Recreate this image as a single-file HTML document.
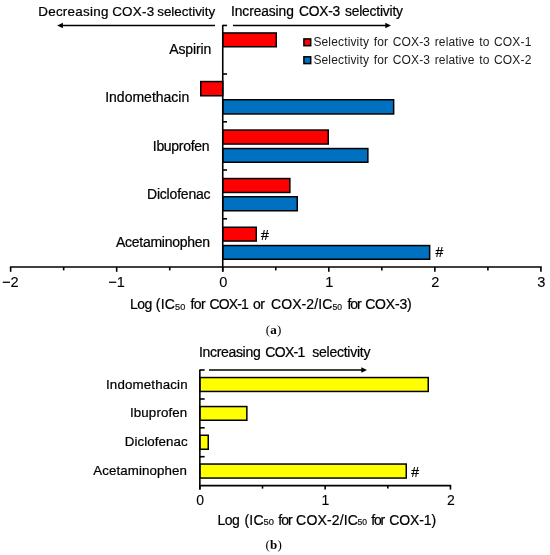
<!DOCTYPE html>
<html><head><meta charset="utf-8"><title>COX selectivity</title>
<style>
html,body{margin:0;padding:0;background:#fff;}
svg{display:block;}
text{font-family:"Liberation Sans",Arial,sans-serif;fill:#000;stroke:#000;stroke-width:0.22px;}
.tk{stroke-width:0.1px;}
.s{font-family:"Liberation Serif","Times New Roman",serif;stroke:none;letter-spacing:0.15px;}
</style></head><body>
<svg width="550" height="555" viewBox="0 0 550 555">
<rect width="550" height="555" fill="#fff"/>

<rect x="222.80" y="32.95" width="53.45" height="13.80" fill="#FF0000" stroke="#000" stroke-width="1.5"/>
<text id="aAsp" x="169.20" y="53.5" font-size="14" textLength="42.20" lengthAdjust="spacing">Aspirin</text>
<rect x="200.75" y="81.55" width="22.05" height="14.20" fill="#FF0000" stroke="#000" stroke-width="1.5"/>
<rect x="222.80" y="99.75" width="170.85" height="14.20" fill="#0070C0" stroke="#000" stroke-width="1.5"/>
<text id="aInd" x="105.20" y="101.6" font-size="14" textLength="84.06" lengthAdjust="spacing">Indomethacin</text>
<rect x="222.80" y="130.05" width="105.45" height="14.00" fill="#FF0000" stroke="#000" stroke-width="1.5"/>
<rect x="222.80" y="148.55" width="145.05" height="13.70" fill="#0070C0" stroke="#000" stroke-width="1.5"/>
<text id="aIbu" x="152.80" y="151.0" font-size="14" textLength="56.77" lengthAdjust="spacing">Ibuprofen</text>
<rect x="222.80" y="178.55" width="67.05" height="13.90" fill="#FF0000" stroke="#000" stroke-width="1.5"/>
<rect x="222.80" y="196.75" width="74.45" height="14.00" fill="#0070C0" stroke="#000" stroke-width="1.5"/>
<text id="aDic" x="147.00" y="199.0" font-size="14" textLength="63.57" lengthAdjust="spacing">Diclofenac</text>
<rect x="222.80" y="227.25" width="33.45" height="13.80" fill="#FF0000" stroke="#000" stroke-width="1.5"/>
<rect x="222.80" y="245.55" width="206.85" height="13.70" fill="#0070C0" stroke="#000" stroke-width="1.5"/>
<text id="aAce" x="116.00" y="247.3" font-size="14" textLength="94.10" lengthAdjust="spacing">Acetaminophen</text>
<path d="M222.75 24.900000000000002V271.5" stroke="#000" stroke-width="1.6" fill="none"/>
<path d="M9.88 267.00H541.68" stroke="#000" stroke-width="1.6" fill="none"/>
<path d="M222.75 25.45h4.3" stroke="#000" stroke-width="1.6"/>
<path d="M222.75 74.00h4.3" stroke="#000" stroke-width="1.6"/>
<path d="M222.75 121.80h4.3" stroke="#000" stroke-width="1.6"/>
<path d="M222.75 170.00h4.3" stroke="#000" stroke-width="1.6"/>
<path d="M222.75 218.80h4.3" stroke="#000" stroke-width="1.6"/>
<path d="M10.63 267.00v4.8" stroke="#000" stroke-width="1.6"/>
<path d="M63.66 267.00v3.4" stroke="#000" stroke-width="1.6"/>
<path d="M116.69 267.00v4.8" stroke="#000" stroke-width="1.6"/>
<path d="M169.72 267.00v3.4" stroke="#000" stroke-width="1.6"/>
<path d="M222.75 267.00v4.8" stroke="#000" stroke-width="1.6"/>
<path d="M275.78 267.00v3.4" stroke="#000" stroke-width="1.6"/>
<path d="M328.81 267.00v4.8" stroke="#000" stroke-width="1.6"/>
<path d="M381.84 267.00v3.4" stroke="#000" stroke-width="1.6"/>
<path d="M434.87 267.00v4.8" stroke="#000" stroke-width="1.6"/>
<path d="M487.90 267.00v3.4" stroke="#000" stroke-width="1.6"/>
<path d="M540.93 267.00v4.8" stroke="#000" stroke-width="1.6"/>
<text class="tk" x="10.4" y="287" font-size="14.6" text-anchor="middle">−2</text>
<text class="tk" x="116.5" y="287" font-size="14.6" text-anchor="middle">−1</text>
<text class="tk" x="223.2" y="287" font-size="14.6" text-anchor="middle">0</text>
<text class="tk" x="329.3" y="287" font-size="14.6" text-anchor="middle">1</text>
<text class="tk" x="435.4" y="287" font-size="14.6" text-anchor="middle">2</text>
<text class="tk" x="541.4" y="287" font-size="14.6" text-anchor="middle">3</text>
<path d="M215 25.5H61.900000000000006" stroke="#000" stroke-width="1.6"/>
<path d="M57.2 25.5L62.900000000000006 22.7V28.3Z" fill="#000"/>
<path d="M233 25.5H386.3" stroke="#000" stroke-width="1.6"/>
<path d="M391 25.5L385.3 22.7V28.3Z" fill="#000"/>
<text id="dec0" x="38.20" y="15.5" font-size="13.4" textLength="70.33" lengthAdjust="spacing">Decreasing</text>
<text id="dec1" x="112.20" y="15.5" font-size="13.4" textLength="41.94" lengthAdjust="spacing">COX-3</text>
<text id="dec2" x="157.20" y="15.5" font-size="13.4" textLength="58.05" lengthAdjust="spacing">selectivity</text>
<text id="inc0" x="231.00" y="15.8" font-size="13.8" textLength="62.86" lengthAdjust="spacing">Increasing</text>
<text id="inc1" x="299.00" y="15.8" font-size="13.8" textLength="41.17" lengthAdjust="spacing">COX-3</text>
<text id="inc2" x="345.00" y="15.8" font-size="13.8" textLength="58.01" lengthAdjust="spacing">selectivity</text>
<rect x="303.9" y="38.9" width="6.8" height="6.8" fill="#FF0000" stroke="#000" stroke-width="1.5"/>
<rect x="303.9" y="56.8" width="6.8" height="6.8" fill="#0070C0" stroke="#000" stroke-width="1.5"/>
<text x="313.4" y="45.9" font-size="12" letter-spacing="0.15" word-spacing="1.1" style="stroke:none;fill:#1a1a1a">Selectivity for COX-3 relative to COX-1</text>
<text x="313.4" y="63.8" font-size="12" letter-spacing="0.15" word-spacing="1.1" style="stroke:none;fill:#1a1a1a">Selectivity for COX-3 relative to COX-2</text>
<text x="261.0" y="239.8" font-size="14">#</text>
<text x="435.6" y="257.4" font-size="14">#</text>
<text id="xa0" x="130.00" y="308.9" font-size="14" textLength="22.36" lengthAdjust="spacing">Log</text>
<text id="xa1" x="155.80" y="308.9" font-size="14" textLength="19.07" lengthAdjust="spacing">(IC</text>
<text id="xa2" x="175.10" y="309.59999999999997" font-size="8.6" textLength="10.16" lengthAdjust="spacingAndGlyphs" style="fill:#222;stroke-width:0.2px">50</text>
<text id="xa3" x="190.50" y="308.9" font-size="14" textLength="15.14" lengthAdjust="spacing">for</text>
<text id="xa4" x="209.50" y="308.9" font-size="14" textLength="39.40" lengthAdjust="spacing">COX-1</text>
<text id="xa5" x="253.10" y="308.9" font-size="14" textLength="11.85" lengthAdjust="spacing">or</text>
<text id="xa6" x="271.00" y="308.9" font-size="14" textLength="61.29" lengthAdjust="spacing">COX-2/IC</text>
<text id="xa7" x="332.60" y="309.59999999999997" font-size="8.6" textLength="9.56" lengthAdjust="spacingAndGlyphs" style="fill:#222;stroke-width:0.2px">50</text>
<text id="xa8" x="347.40" y="308.9" font-size="14" textLength="14.34" lengthAdjust="spacing">for</text>
<text id="xa9" x="365.20" y="308.9" font-size="14" textLength="46.45" lengthAdjust="spacing">COX-3)</text>
<text class="s" x="273.6" y="334.1" font-size="13" text-anchor="middle">(<tspan font-weight="bold">a</tspan>)</text>
<rect x="199.85" y="377.55" width="228.40" height="13.90" fill="#FFFF00" stroke="#000" stroke-width="1.5"/>
<text id="bInd" x="106.00" y="388.7" font-size="13.3" textLength="81.64" lengthAdjust="spacing">Indomethacin</text>
<rect x="199.85" y="406.55" width="47.00" height="13.70" fill="#FFFF00" stroke="#000" stroke-width="1.5"/>
<text id="bIbu" x="130.00" y="417.4" font-size="13.3" textLength="57.19" lengthAdjust="spacing">Ibuprofen</text>
<rect x="199.85" y="435.25" width="8.40" height="14.00" fill="#FFFF00" stroke="#000" stroke-width="1.5"/>
<text id="bDic" x="124.80" y="446.1" font-size="13.3" textLength="62.89" lengthAdjust="spacing">Diclofenac</text>
<rect x="199.85" y="464.05" width="206.40" height="14.00" fill="#FFFF00" stroke="#000" stroke-width="1.5"/>
<text id="bAce" x="93.20" y="474.9" font-size="13.3" textLength="93.81" lengthAdjust="spacing">Acetaminophen</text>
<path d="M199.85 369.5V489.6" stroke="#000" stroke-width="1.6" fill="none"/>
<path d="M199.1 485.60H451.20" stroke="#000" stroke-width="1.6" fill="none"/>
<path d="M199.85 370.00h4.8" stroke="#000" stroke-width="1.6"/>
<path d="M199.85 399.00h4.8" stroke="#000" stroke-width="1.6"/>
<path d="M199.85 427.80h4.8" stroke="#000" stroke-width="1.6"/>
<path d="M199.85 456.70h4.8" stroke="#000" stroke-width="1.6"/>
<path d="M199.85 485.60v4" stroke="#000" stroke-width="1.6"/>
<path d="M262.50 485.60v3" stroke="#000" stroke-width="1.6"/>
<path d="M325.15 485.60v4" stroke="#000" stroke-width="1.6"/>
<path d="M387.80 485.60v3" stroke="#000" stroke-width="1.6"/>
<path d="M450.45 485.60v4" stroke="#000" stroke-width="1.6"/>
<text class="tk" x="200.2" y="505.4" font-size="14" text-anchor="middle">0</text>
<text class="tk" x="325.5" y="505.4" font-size="14" text-anchor="middle">1</text>
<text class="tk" x="450.8" y="505.4" font-size="14" text-anchor="middle">2</text>
<path d="M209 370H362.3" stroke="#000" stroke-width="1.6"/>
<path d="M367 370L361.3 367.2V372.8Z" fill="#000"/>
<text id="incb0" x="198.90" y="356.5" font-size="14" textLength="61.79" lengthAdjust="spacing">Increasing</text>
<text id="incb1" x="265.20" y="356.5" font-size="14" textLength="40.20" lengthAdjust="spacing">COX-1</text>
<text id="incb2" x="312.30" y="356.5" font-size="14" textLength="58.09" lengthAdjust="spacing">selectivity</text>
<text x="411.2" y="476.6" font-size="14">#</text>
<text id="xb0" x="217.60" y="524.7" font-size="14" textLength="22.16" lengthAdjust="spacing">Log</text>
<text id="xb1" x="244.40" y="524.7" font-size="14" textLength="19.27" lengthAdjust="spacing">(IC</text>
<text id="xb2" x="263.60" y="525.4000000000001" font-size="8.6" textLength="10.36" lengthAdjust="spacingAndGlyphs" style="fill:#222;stroke-width:0.2px">50</text>
<text id="xb3" x="278.30" y="524.7" font-size="14" textLength="14.34" lengthAdjust="spacing">for</text>
<text id="xb4" x="296.10" y="524.7" font-size="14" textLength="61.89" lengthAdjust="spacing">COX-2/IC</text>
<text id="xb5" x="357.60" y="525.4000000000001" font-size="8.6" textLength="9.56" lengthAdjust="spacingAndGlyphs" style="fill:#222;stroke-width:0.2px">50</text>
<text id="xb6" x="371.30" y="524.7" font-size="14" textLength="13.94" lengthAdjust="spacing">for</text>
<text id="xb7" x="389.20" y="524.7" font-size="14" textLength="47.05" lengthAdjust="spacing">COX-1)</text>
<text class="s" x="273.7" y="549.1" font-size="13" text-anchor="middle">(<tspan font-weight="bold">b</tspan>)</text>
</svg></body></html>
